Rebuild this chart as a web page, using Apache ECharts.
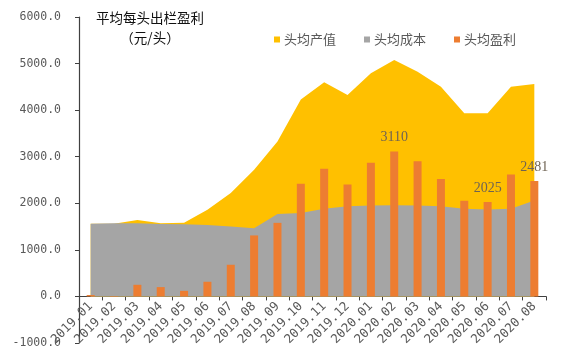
<!DOCTYPE html>
<html><head><meta charset="utf-8">
<script src="https://cdn.jsdelivr.net/npm/echarts@6/dist/echarts.min.js"></script>
<style>html,body{margin:0;padding:0;background:#fff}#c{width:575px;height:361px}</style>
</head><body><div id="c"></div>
<script>
var categories = ['2019.01','2019.02','2019.03','2019.04','2019.05','2019.06','2019.07','2019.08','2019.09','2019.10',
  '2019.11','2019.12','2020.01','2020.02','2020.03','2020.04','2020.05','2020.06','2020.07','2020.08'];
var outputValue = [1560,1560,1640,1570,1580,1860,2220,2720,3325,4230,4600,4325,4790,5075,4825,4500,3935,3935,4500,4560];
var costValue   = [1560,1570,1570,1555,1550,1535,1500,1465,1770,1790,1880,1935,1955,1960,1955,1935,1880,1865,1880,2060];
var profitValue = [30,-10,250,200,120,315,680,1310,1580,2420,2740,2405,2870,3110,2900,2520,2055,2025,2620,2481];
var labeledIdx = [13,17,19];
var yTicks = {min:-1000, max:6000, interval:1000};

var gridTop = 17, gridBottom = 18, chartH = 361;
var plotH = chartH - gridTop - gridBottom;
var zeroOffset = -plotH * (0 - yTicks.min) / (yTicks.max - yTicks.min);

var chart = echarts.init(document.getElementById('c'));
var axisColor = '#404040';
var profitData = profitValue.map(function(v,i){
  return labeledIdx.indexOf(i) >= 0 ? {value:v, label:{show:true}} : v;
});
chart.setOption({
  animation:false,
  grid:{left:79, right:29, top:gridTop, bottom:gridBottom, containLabel:false, outerBoundsMode:'none'},
  legend:{
    left:269, top:28, itemWidth:6, itemHeight:6, itemGap:28, icon:'rect',
    textStyle:{fontFamily:'Noto Sans CJK SC', fontSize:13, color:'#595959', padding:[0,0,0,-1]},
    data:['头均产值','头均成本','头均盈利']
  },
  graphic:[
    {type:'text', x:150, y:18, style:{text:'平均每头出栏盈利', x:0, y:0, textAlign:'center', textVerticalAlign:'middle', font:'13.5px "Noto Sans CJK SC"', fill:'#111'}},
    {type:'text', x:150, y:38, style:{text:'（元/头）', x:0, y:0, textAlign:'center', textVerticalAlign:'middle', font:'13.5px "Noto Sans CJK SC"', fill:'#111'}}
  ],
  xAxis:{
    type:'category', data:categories, boundaryGap:true, offset:zeroOffset,
    axisLine:{onZero:false, lineStyle:{color:axisColor, width:1.2}},
    axisTick:{show:true, length:4, lineStyle:{color:axisColor}},
    axisLabel:{rotate:45, interval:0, margin:8, fontFamily:'DejaVu Sans Mono', fontSize:12.5, color:'#595959'}
  },
  yAxis:{
    type:'value', min:yTicks.min, max:yTicks.max, interval:yTicks.interval,
    splitLine:{show:false},
    axisLine:{show:true, lineStyle:{color:axisColor, width:1.2}},
    axisTick:{show:true, length:4, lineStyle:{color:axisColor}},
    axisLabel:{margin:18, fontFamily:'DejaVu Sans Mono', fontSize:11.5, color:'#595959',
      formatter:function(v){return v.toFixed(1);}}
  },
  series:[
    {name:'头均产值', type:'line', data:outputValue, symbol:'none', color:'#FFC000',
      lineStyle:{width:0}, areaStyle:{color:'#FFC000', opacity:1}, z:1},
    {name:'头均成本', type:'line', data:costValue, symbol:'none', color:'#A5A5A5',
      lineStyle:{width:0}, areaStyle:{color:'#A5A5A5', opacity:1}, z:2},
    {name:'头均盈利', type:'bar', data:profitData, barWidth:8, color:'#ED7D31', z:3,
      label:{show:false, position:'top', distance:7, fontFamily:'Liberation Serif', fontSize:14, color:'#6f6353'}}
  ]
});
</script></body></html>
